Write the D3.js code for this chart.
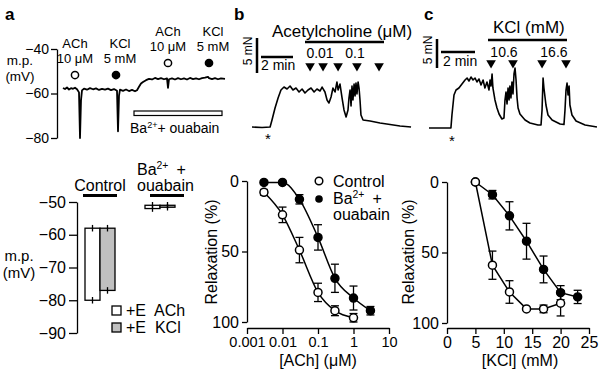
<!DOCTYPE html>
<html>
<head>
<meta charset="utf-8">
<script src="https://cdn.jsdelivr.net/npm/d3@7"></script>
<style>
  body { margin: 0; background: #fff; }
  svg { display: block; font-family: "Liberation Sans", Arial, Helvetica, sans-serif; }
</style>
</head>
<body>
<div id="chart"></div>
<script>
// ---------- data ----------
// a (top): membrane potential trace, [time (s), mV]
const mpTrace = [[0,-57.5],[2,-58],[4,-57.3],[6,-58.2],[8,-57.6],[10,-57.9],[12,-57.4],[14,-58.1],[16,-59.5],[17,-80],[18,-63],[19,-58.6],[21,-57.8],[24,-58.3],[27,-57.6],[30,-58.1],[33,-57.7],[36,-58.4],[39,-57.9],[42,-58.3],[45,-57.8],[48,-58.5],[51,-58],[54,-58.8],[55,-77],[56,-61],[57,-58.3],[60,-58.8],[63,-58.2],[66,-58.9],[69,-58.4],[72,-59],[74,-58.5],[76,-57],[78,-55.5],[80,-54.8],[83,-54],[86,-53.4],[89,-53.7],[92,-53],[95,-53.5],[98,-53.1],[101,-53.6],[104,-53.2],[105,-57.5],[106,-53.6],[109,-53.2],[112,-53.7],[115,-53.1],[118,-53.6],[121,-53.2],[124,-53.7],[127,-53],[130,-53.5],[133,-53.2],[136,-53.6],[139,-53.1],[142,-52.9],[145,-52.5],[146,-53.1],[149,-53.5],[152,-53.1],[155,-53.6],[158,-53.2],[162,-53.4]];
const mpEventTime = [12, 53, 105, 146];
const mpEventLevel = [-51.7, -51.7, -46.3, -46.3];
const mpEventDrug = ["ACh", "KCl", "ACh", "KCl"];
const mpEventDose = ["10 μM", "5 mM", "10 μM", "5 mM"];
const baOuabainSpan = [71, 159];

// b (top): ACh tension trace, [min, mN]
const achTrace = [[0,0],[0.63,-0.07],[1.13,0],[1.25,1.0],[1.44,2.71],[1.63,4.14],[1.81,5.29],[2.0,5.71],[2.19,5.43],[2.38,5.86],[2.56,5.29],[2.75,5.57],[2.94,5.0],[3.13,5.43],[3.31,4.86],[3.5,5.29],[3.69,5.57],[3.88,5.0],[4.06,5.43],[4.25,5.14],[4.38,5.71],[4.56,5.0],[4.69,3.86],[4.81,3.43],[4.94,4.29],[5.06,5.57],[5.19,5.0],[5.31,6.43],[5.38,5.29],[5.5,6.14],[5.63,4.14],[5.75,2.43],[5.88,1.43],[6.0,2.43],[6.06,4.14],[6.13,5.29],[6.19,3.0],[6.25,5.86],[6.31,3.86],[6.38,6.14],[6.44,4.43],[6.5,6.29],[6.56,4.71],[6.63,6.43],[6.69,5.57],[6.75,3.86],[6.81,1.71],[6.94,1.0],[7.38,0.86],[8.0,0.57],[8.63,0.36],[9.25,0.14],[9.94,0]];
const achAdds = [3.63, 4.44, 5.38, 6.56, 7.94];
const achAddLabels = [[4.25, "0.01"], [6.44, "0.1"]];

// c (top): KCl tension trace, [min, mN]
const kclTrace = [[0,0],[0.65,0],[1.29,0],[1.35,2.24],[1.47,5.69],[1.59,6.55],[1.76,6.9],[1.94,7.59],[2.12,8.28],[2.24,8.62],[2.35,8.1],[2.47,8.79],[2.59,8.28],[2.71,8.62],[2.82,7.93],[2.94,8.45],[3.06,7.41],[3.18,8.28],[3.29,6.9],[3.41,7.93],[3.53,6.55],[3.59,8.28],[3.65,7.24],[3.71,9.31],[3.76,6.9],[3.88,4.83],[4.0,3.45],[4.12,2.41],[4.29,1.55],[4.41,1.72],[4.47,4.83],[4.53,6.21],[4.59,4.14],[4.65,6.9],[4.71,4.83],[4.76,7.24],[4.82,5.17],[4.88,7.93],[4.94,5.86],[5.0,9.31],[5.06,10.34],[5.12,8.28],[5.18,5.17],[5.24,3.45],[5.35,2.41],[5.65,1.38],[5.94,0.86],[6.41,0.52],[6.59,0.52],[6.65,3.1],[6.71,8.62],[6.76,6.9],[6.88,3.97],[7.0,2.24],[7.24,1.38],[7.71,0.69],[7.94,0.6],[8.0,3.1],[8.06,6.55],[8.12,7.76],[8.18,5.69],[8.24,7.24],[8.29,3.97],[8.41,2.24],[8.65,1.21],[9.18,0.52],[9.88,0.17]];
const kclAdds = [3.65, 4.94, 6.65, 8.06];
const kclAddLabels = [[4.41, "10.6"], [7.35, "16.6"]];

// a (bottom): membrane potential bars
const mpGroups = ["Control", "Ba"];
const mpStimuli = ["ACh", "KCl"];
const mpRest = [[-58, -58], [-51, -51]];
const mpPeak = [[-80, -77], [-52, -51.6]];
const mpTicks = [-50, -60, -70, -80, -90];

// b (bottom): ACh concentration-response
const achDose = [0.003, 0.01, 0.03, 0.1, 0.3, 1];
const achControl = [8, 24, 49, 79, 92, 97];
const achControlErr = [2, 5.5, 9, 6.5, 3.5, 3];
const achBaDose = [0.003, 0.01, 0.03, 0.1, 0.3, 1, 3];
const achBa = [1, 1, 13, 40, 69, 83, 92];
const achBaErr = [0, 0, 3.3, 9, 10, 8.5, 3];
const achTicks = [0.001, 0.01, 0.1, 1, 10];

// c (bottom): KCl concentration-response
const kclDose = [5, 8, 11, 14, 17, 20];
const kclControl = [0, 59, 78, 90, 90, 86];
const kclControlErr = [0, 10, 8, 1, 2.7, 9];
const kclBaDose = [5, 8, 11, 14, 17, 20, 23];
const kclBa = [0, 9, 24, 42, 62, 78.5, 81.5];
const kclBaErr = [0, 3, 10, 12.7, 9.5, 5, 4.7];
const kclTicks = [0, 5, 10, 15, 20, 25];
const relaxTicks = [0, 50, 100];

// ---------- chart ----------
const width = 600;
const height = 372;

const svg = d3.select("#chart").append("svg")
  .attr("width", width)
  .attr("height", height)
  .attr("viewBox", [0, 0, width, height]);

function styleAxis(g, fs) {
  g.attr("font-size", fs).attr("font-family", null);
  g.selectAll("path, line").attr("stroke-width", 1.3);
}

function baLabel(sel, x, y, fs) {
  const t = sel.append("text").attr("x", x).attr("y", y).attr("font-size", fs);
  t.append("tspan").text("Ba");
  t.append("tspan").attr("font-size", fs * 0.65).attr("dy", -fs * 0.38).text("2+");
  return t;
}

// panel letters
[["a", 5], ["b", 234], ["c", 424]].forEach(([l, x]) => {
  svg.append("text").attr("x", x).attr("y", 20)
    .attr("font-size", 17).attr("font-weight", "bold").text(l);
});

// ===== a: trace =====
const xA = d3.scaleLinear([0, 162], [63, 225]);
const yA = d3.scaleLinear([-80, -40], [138, 49]);

svg.append("g")
  .attr("transform", "translate(57,0)")
  .call(d3.axisLeft(yA).tickValues([-40, -60, -80]).tickSize(6).tickSizeOuter(0).tickPadding(2))
  .call(g => styleAxis(g, 14));

svg.append("text").attr("x", 20).attr("y", 65).attr("font-size", 13.5)
  .attr("text-anchor", "middle").text("m.p.");
svg.append("text").attr("x", 20).attr("y", 81).attr("font-size", 13.5)
  .attr("text-anchor", "middle").text("(mV)");

svg.append("path")
  .attr("fill", "none").attr("stroke", "#000").attr("stroke-width", 1.8)
  .attr("stroke-linejoin", "round")
  .attr("d", d3.line().x(d => xA(d[0])).y(d => yA(d[1]))(mpTrace));

mpEventTime.forEach((t, i) => {
  const cx = xA(t), cy = yA(mpEventLevel[i]);
  svg.append("circle").attr("cx", cx).attr("cy", cy).attr("r", 3.6)
    .attr("fill", i % 2 ? "#000" : "#fff").attr("stroke", "#000").attr("stroke-width", 1.5);
  svg.append("text").attr("x", cx + (i % 2 ? 4 : 0)).attr("y", cy - 27)
    .attr("font-size", 13).attr("text-anchor", "middle").text(mpEventDrug[i]);
  svg.append("text").attr("x", cx + (i % 2 ? 4 : 0)).attr("y", cy - 12)
    .attr("font-size", 13).attr("text-anchor", "middle").text(mpEventDose[i]);
});

svg.append("rect")
  .attr("x", xA(baOuabainSpan[0])).attr("y", 111)
  .attr("width", xA(baOuabainSpan[1]) - xA(baOuabainSpan[0])).attr("height", 4.5)
  .attr("fill", "#fff").attr("stroke", "#000").attr("stroke-width", 1.2);
const baT = baLabel(svg, 130, 133, 14);
baT.append("tspan").attr("dy", 14 * 0.38).text("+ ouabain");

// ===== b: ACh trace =====
const xBt = d3.scaleLinear([0, 10], [252, 412]);
const yBt = d3.scaleLinear([0, 5], [127, 92]);

svg.append("text").attr("x", 272).attr("y", 37).attr("font-size", 17).text("Acetylcholine (μM)");
svg.append("line").attr("x1", 305).attr("x2", 384).attr("y1", 42).attr("y2", 42)
  .attr("stroke", "#000").attr("stroke-width", 2.5);
svg.append("line").attr("x1", 257).attr("x2", 257)
  .attr("y1", 38).attr("y2", 38 + (yBt(0) - yBt(5)))
  .attr("stroke", "#000").attr("stroke-width", 2.5);
svg.append("text").attr("transform", "translate(252,51) rotate(-90)")
  .attr("font-size", 12).attr("text-anchor", "middle").text("5 mN");
svg.append("line").attr("x1", 261).attr("x2", 261 + xBt(2) - xBt(0))
  .attr("y1", 57).attr("y2", 57).attr("stroke", "#000").attr("stroke-width", 2.5);
svg.append("text").attr("x", 261).attr("y", 70).attr("font-size", 14).text("2 min");

svg.selectAll(null).data(achAdds).join("path")
  .attr("transform", d => `translate(${xBt(d)},66) rotate(180)`)
  .attr("d", d3.symbol(d3.symbolTriangle, 40));
svg.selectAll(null).data(achAddLabels).join("text")
  .attr("x", d => xBt(d[0])).attr("y", 58).attr("font-size", 14)
  .attr("text-anchor", "middle").text(d => d[1]);

svg.append("path")
  .attr("fill", "none").attr("stroke", "#000").attr("stroke-width", 1.6)
  .attr("stroke-linejoin", "round")
  .attr("d", d3.line().x(d => xBt(d[0])).y(d => yBt(d[1]))(achTrace));
svg.append("text").attr("x", 268).attr("y", 144).attr("font-size", 15)
  .attr("text-anchor", "middle").text("*");

// ===== c: KCl trace =====
const xCt = d3.scaleLinear([0, 10], [429, 599]);
const yCt = d3.scaleLinear([0, 5], [128, 99]);

svg.append("text").attr("x", 493).attr("y", 33).attr("font-size", 17).text("KCl (mM)");
svg.append("line").attr("x1", 488).attr("x2", 567).attr("y1", 40).attr("y2", 40)
  .attr("stroke", "#000").attr("stroke-width", 2.5);
svg.append("line").attr("x1", 437).attr("x2", 437)
  .attr("y1", 39).attr("y2", 39 + (yCt(0) - yCt(5)))
  .attr("stroke", "#000").attr("stroke-width", 2.5);
svg.append("text").attr("transform", "translate(432,50) rotate(-90)")
  .attr("font-size", 12).attr("text-anchor", "middle").text("5 mN");
svg.append("line").attr("x1", 441).attr("x2", 441 + xCt(2) - xCt(0))
  .attr("y1", 52).attr("y2", 52).attr("stroke", "#000").attr("stroke-width", 2.5);
svg.append("text").attr("x", 443).attr("y", 66).attr("font-size", 14).text("2 min");

svg.selectAll(null).data(kclAdds).join("path")
  .attr("transform", d => `translate(${xCt(d)},63) rotate(180)`)
  .attr("d", d3.symbol(d3.symbolTriangle, 40));
svg.selectAll(null).data(kclAddLabels).join("text")
  .attr("x", d => xCt(d[0])).attr("y", 57).attr("font-size", 14)
  .attr("text-anchor", "middle").text(d => d[1]);

svg.append("path")
  .attr("fill", "none").attr("stroke", "#000").attr("stroke-width", 1.6)
  .attr("stroke-linejoin", "round")
  .attr("d", d3.line().x(d => xCt(d[0])).y(d => yCt(d[1]))(kclTrace));
svg.append("text").attr("x", 452).attr("y", 146).attr("font-size", 15)
  .attr("text-anchor", "middle").text("*");

// ===== a (bottom): bars =====
const yM = d3.scaleLinear([-90, -50], [333, 202]);
const xGroup = d3.scaleBand(mpGroups, [85, 175]).paddingInner(0.5);
const xStim = d3.scaleBand(mpStimuli, [0, xGroup.bandwidth()]);
const barFill = ["#fff", "#c0c0c0"];

svg.append("g")
  .attr("transform", "translate(77,0)")
  .call(d3.axisLeft(yM).tickValues(mpTicks).tickSize(8).tickSizeOuter(0).tickPadding(3))
  .call(g => styleAxis(g, 16));

svg.append("text").attr("x", 19).attr("y", 261).attr("font-size", 15)
  .attr("text-anchor", "middle").text("m.p.");
svg.append("text").attr("x", 19).attr("y", 278).attr("font-size", 15)
  .attr("text-anchor", "middle").text("(mV)");

mpGroups.forEach((grp, gi) => {
  mpStimuli.forEach((s, si) => {
    const x0 = xGroup(grp) + xStim(s);
    const top = yM(mpRest[gi][si]), bot = yM(mpPeak[gi][si]);
    svg.append("rect").attr("x", x0).attr("y", top)
      .attr("width", xStim.bandwidth()).attr("height", bot - top)
      .attr("fill", barFill[si]).attr("stroke", "#000").attr("stroke-width", 1.3);
    const cx = x0 + xStim.bandwidth() / 2;
    [mpRest[gi][si], mpPeak[gi][si]].forEach(v => {
      svg.append("line").attr("x1", cx).attr("x2", cx)
        .attr("y1", yM(v + 1)).attr("y2", yM(v - 1))
        .attr("stroke", "#000").attr("stroke-width", 1.3);
    });
  });
});

svg.append("text").attr("x", 100).attr("y", 191).attr("font-size", 16)
  .attr("text-anchor", "middle").text("Control");
svg.append("line").attr("x1", 83).attr("x2", 117).attr("y1", 195.5).attr("y2", 195.5)
  .attr("stroke", "#000").attr("stroke-width", 3);
const baB = baLabel(svg, 137, 175, 16);
baB.append("tspan").attr("dy", 16 * 0.38).attr("dx", 8).text("+");
svg.append("text").attr("x", 137).attr("y", 191).attr("font-size", 16).text("ouabain");
svg.append("line").attr("x1", 150).attr("x2", 184).attr("y1", 195.5).attr("y2", 195.5)
  .attr("stroke", "#000").attr("stroke-width", 3);

mpStimuli.forEach((s, si) => {
  const y0 = 306 + si * 17;
  svg.append("rect").attr("x", 112).attr("y", y0).attr("width", 9).attr("height", 9)
    .attr("fill", barFill[si]).attr("stroke", "#000").attr("stroke-width", 1.3);
  svg.append("text").attr("x", 126).attr("y", y0 + 10).attr("font-size", 16)
    .style("white-space", "pre").text("+E  " + s);
});

// ===== b (bottom): ACh dose-response =====
const xB = d3.scaleLog([0.001, 10], [247, 389]);
const yB = d3.scaleLinear([0, 100], [181, 322]);

svg.append("g")
  .attr("transform", "translate(247,0)")
  .call(d3.axisLeft(yB).tickValues(relaxTicks).tickSize(5).tickSizeOuter(0).tickPadding(3))
  .call(g => styleAxis(g, 16));
svg.append("g")
  .attr("transform", "translate(0,328)")
  .call(d3.axisBottom(xB).tickValues(achTicks).tickFormat(d => String(d)).tickSize(6).tickSizeOuter(0).tickPadding(3))
  .call(g => styleAxis(g, 14.5));
svg.append("text").attr("x", 318).attr("y", 366).attr("font-size", 16)
  .attr("text-anchor", "middle").text("[ACh] (μM)");
svg.append("text").attr("transform", "translate(217,252) rotate(-90)")
  .attr("font-size", 16).attr("text-anchor", "middle").text("Relaxation (%)");

function drawSeries(xs, ys, dose, vals, errs, filled, curve) {
  const pts = dose.map((d, i) => [d, vals[i], errs[i]]);
  svg.append("path")
    .attr("fill", "none").attr("stroke", "#000").attr("stroke-width", 1.5)
    .attr("d", d3.line().curve(curve).x(d => xs(d[0])).y(d => ys(d[1]))(pts));
  pts.filter(d => d[2] > 0).forEach(d => {
    const cx = xs(d[0]);
    const g = svg.append("g").attr("stroke", "#000").attr("stroke-width", 1.3);
    g.append("line").attr("x1", cx).attr("x2", cx).attr("y1", ys(d[1] - d[2])).attr("y2", ys(d[1] + d[2]));
    g.append("line").attr("x1", cx - 4).attr("x2", cx + 4).attr("y1", ys(d[1] - d[2])).attr("y2", ys(d[1] - d[2]));
    g.append("line").attr("x1", cx - 4).attr("x2", cx + 4).attr("y1", ys(d[1] + d[2])).attr("y2", ys(d[1] + d[2]));
  });
  svg.selectAll(null).data(pts).join("circle")
    .attr("cx", d => xs(d[0])).attr("cy", d => ys(d[1])).attr("r", 4)
    .attr("fill", filled ? "#000" : "#fff").attr("stroke", "#000").attr("stroke-width", 1.5);
}

drawSeries(xB, yB, achBaDose, achBa, achBaErr, true, d3.curveMonotoneX);
drawSeries(xB, yB, achDose, achControl, achControlErr, false, d3.curveMonotoneX);

svg.append("circle").attr("cx", 319).attr("cy", 181).attr("r", 3.8)
  .attr("fill", "#fff").attr("stroke", "#000").attr("stroke-width", 1.5);
svg.append("text").attr("x", 333).attr("y", 187).attr("font-size", 16).text("Control");
svg.append("circle").attr("cx", 319).attr("cy", 199).attr("r", 3.8).attr("fill", "#000");
const baC = baLabel(svg, 333, 204, 16);
baC.append("tspan").attr("dy", 16 * 0.38).attr("dx", 8).text("+");
svg.append("text").attr("x", 333).attr("y", 220).attr("font-size", 16).text("ouabain");

// ===== c (bottom): KCl dose-response =====
const xC = d3.scaleLinear([0, 25], [447, 589]);
const yC = d3.scaleLinear([0, 100], [182, 323]);

svg.append("g")
  .attr("transform", "translate(447,0)")
  .call(d3.axisLeft(yC).tickValues(relaxTicks).tickSize(5).tickSizeOuter(0).tickPadding(3))
  .call(g => styleAxis(g, 16));
svg.append("g")
  .attr("transform", "translate(0,328)")
  .call(d3.axisBottom(xC).tickValues(kclTicks).tickSize(6).tickSizeOuter(0).tickPadding(3))
  .call(g => styleAxis(g, 16));
svg.append("text").attr("x", 520).attr("y", 366).attr("font-size", 16)
  .attr("text-anchor", "middle").text("[KCl] (mM)");
svg.append("text").attr("transform", "translate(414,252) rotate(-90)")
  .attr("font-size", 16).attr("text-anchor", "middle").text("Relaxation (%)");

drawSeries(xC, yC, kclBaDose, kclBa, kclBaErr, true, d3.curveLinear);
drawSeries(xC, yC, kclDose, kclControl, kclControlErr, false, d3.curveLinear);
</script>
</body>
</html>
